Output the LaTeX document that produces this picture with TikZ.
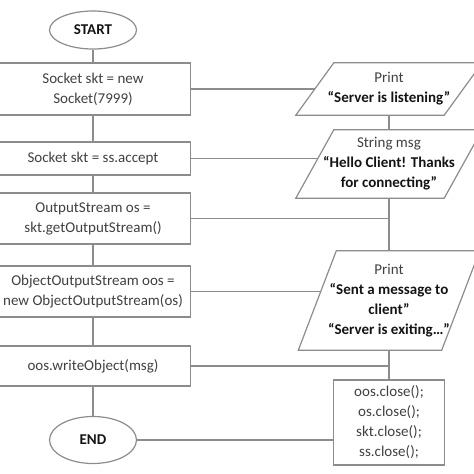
\documentclass[tikz,border=0pt]{standalone}
\usepackage{fontspec}
\setmainfont{Carlito}
\usetikzlibrary{shapes.geometric, calc}

\definecolor{linegray}{RGB}{140,140,140}
\definecolor{textgray}{RGB}{64,64,64}
\definecolor{boldtext}{RGB}{20,20,20}
\newcommand{\quoted}[1]{\textcolor{boldtext}{\textbf{#1}}}

\begin{document}
\begin{tikzpicture}[x=1pt, y=-1pt,
  every node/.style={font=\fontsize{15}{20}\selectfont, text=textgray, align=center, inner sep=0pt},
  proc/.style={draw=linegray, line width=1.2pt, rectangle, minimum width=195pt},
  term/.style={draw=linegray, line width=1.2pt, ellipse, minimum width=87pt, font=\fontsize{15}{20}\selectfont\bfseries, text=boldtext},
  io/.style={rectangle, minimum width=148pt},
  link/.style={draw=linegray, line width=1.2pt}]
\useasboundingbox (0,0) rectangle (474,474);
\clip (0,0) rectangle (474,474);

\node [term, minimum height=38pt] (start) at (93,30) {START};
\node [proc, minimum height=52pt] (sock) at (93,89) {Socket skt = new\\Socket(7999)};
\node [proc, minimum height=33pt] (accept) at (93,158.5) {Socket skt = ss.accept};
\node [proc, minimum height=51pt] (outs) at (93,218.5) {OutputStream os =\\skt.getOutputStream()};
\node [proc, minimum height=51pt] (oos) at (93,291.5) {ObjectOutputStream oos =\\new ObjectOutputStream(os)};
\node [proc, minimum height=40pt] (write) at (93,366) {oos.writeObject(msg)};
\node [term, minimum height=47pt] (end) at (93,440) {END};

\node [io, minimum height=52pt] (listen) at (389,89) {Print\\\quoted{“Server is listening”}};
\node [io, minimum height=68pt] (msg) at (389,164) {String msg\\\quoted{“Hello Client! Thanks}\\\quoted{for connecting”}};
\node [io, minimum width=143pt, minimum height=99pt] (exit) at (389,300.5) {Print\\\quoted{“Sent a message to}\\\quoted{client”}\\\quoted{“Server is exiting…”}};
\node [proc, minimum width=111pt, minimum height=85pt] (close) at (389,422.5) {oos.close();\\os.close();\\skt.close();\\ss.close();};

\foreach \n in {listen, msg, exit}
  \draw [link] ([xshift=-19pt]\n.south west) -- ([xshift=-19pt]\n.south east) -- ([xshift=19pt]\n.north east) -- ([xshift=19pt]\n.north west) -- cycle;

\draw [link] (start) -- (sock);
\draw [link] (sock) -- (accept);
\draw [link] (accept) -- (outs);
\draw [link] (outs) -- (oos);
\draw [link] (oos) -- (write);
\draw [link] (write) -- (end);

\draw [link] (sock.east) -- (listen.west);
\draw [link] (accept.east) -- ($(accept.east -| msg.west)+(3.1,0)$);
\draw [link] (outs.east) -- (outs.east -| msg.south);
\draw [link] (oos.east) -- ($(oos.east -| exit.west)+(3.5,0)$);
\draw [link] (write.east) -- (write.east -| exit.south);
\draw [link] (end.east) -- (end.east -| close.west);

\draw [link] (listen) -- (msg);
\draw [link] (msg) -- (exit);
\draw [link] (exit) -- (close);
\end{tikzpicture}
\end{document}
